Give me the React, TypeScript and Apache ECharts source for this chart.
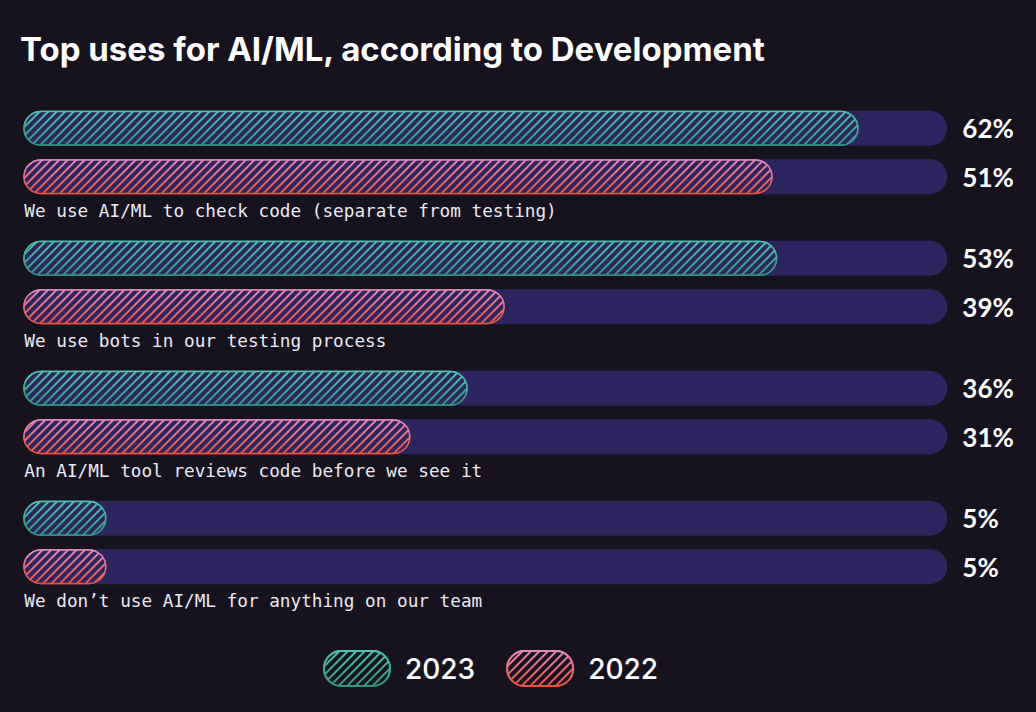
import * as echarts from 'echarts';
import { useEffect, useRef } from 'react';

// categories, top to bottom
const uses = [
  'We use AI/ML to check code (separate from testing)',
  'We use bots in our testing process',
  'An AI/ML tool reviews code before we see it',
  'We don’t use AI/ML for anything on our team',
];

// percentages printed at the end of each track
const pct2023 = [62, 53, 36, 5];
const pct2022 = [51, 39, 31, 5];

// drawn bar length, as a share of the track
const len2023 = [90.4, 81.6, 48.1, 9.0];
const len2022 = [81.1, 52.1, 41.9, 9.0];

const trackFull = [100, 100, 100, 100];

const BG = '#16131f';
const TRACK = '#2d2560';

const pillIcon =
  'path://M17.5,0 H48.5 A17.5,17.5 0 0 1 48.5,35 H17.5 A17.5,17.5 0 0 1 17.5,0 Z';

export default function App() {
  const container = useRef<HTMLDivElement | null>(null);

  useEffect(() => {
    document.body.style.margin = '0';
    document.body.style.background = BG;
    if (!container.current) return;
    const chart = echarts.init(container.current, undefined, { renderer: 'svg' });

    const teal = new echarts.graphic.LinearGradient(0, 0, 0, 1, [
      { offset: 0, color: '#4cc3ad' },
      { offset: 1, color: '#2e9482' },
    ]);
    const rose = new echarts.graphic.LinearGradient(0, 0, 0, 1, [
      { offset: 0, color: '#e487bb' },
      { offset: 1, color: '#e9513a' },
    ]);

    // thin diagonal stripes: the base colour shows through the gaps
    const hatch = (color: string) => ({
      symbol: 'rect',
      symbolSize: 1,
      color,
      dashArrayX: [1, 0],
      dashArrayY: [3.8, 1.3],
      rotation: -Math.PI / 4,
    });

    const common = {
      type: 'bar' as const,
      barWidth: 35,
      barGap: '38%',
      silent: true,
    };

    const pctLabel = (vals: number[]) => ({
      show: true,
      position: 'right',
      distance: 15,
      formatter: (p: { dataIndex: number }) => `${vals[p.dataIndex]}%`,
      color: '#ffffff',
      fontFamily: 'Lato',
      fontWeight: 700,
      fontSize: 26,
    });

    chart.setOption({
      animation: false,
      backgroundColor: BG,
      title: {
        text: 'Top uses for AI/ML, according to Development',
        left: 15,
        top: 27,
        textStyle: {
          color: '#ffffff',
          fontFamily: 'Inter',
          fontWeight: 700,
          fontSize: 33,
        },
      },
      legend: {
        data: ['2023', '2022'],
        left: 318,
        top: 645,
        icon: pillIcon,
        itemWidth: 66,
        itemHeight: 35,
        itemGap: 31,
        itemStyle: { decal: hatch(BG) },
        textStyle: {
          color: '#ffffff',
          fontFamily: 'Inter',
          fontWeight: 500,
          fontSize: 28,
          padding: [0, 0, 0, 10],
        },
      },
      grid: { left: 23.3, right: 88.7, top: 87.5, bottom: 104.5 },
      xAxis: { type: 'value', min: 0, max: 100, show: false },
      yAxis: [
        {
          type: 'category',
          inverse: true,
          data: uses,
          axisLine: { show: false },
          axisTick: { show: false },
          axisLabel: {
            inside: true,
            margin: 1,
            align: 'left',
            verticalAlign: 'top',
            lineHeight: 117,
            color: '#ebe9f2',
            fontFamily: 'DejaVu Sans Mono',
            fontSize: 17.7,
          },
        },
        { type: 'category', inverse: true, data: uses, show: false },
      ],
      series: [
        {
          ...common,
          name: 'track2023',
          yAxisIndex: 0,
          data: trackFull,
          itemStyle: { color: TRACK, borderRadius: 17.5 },
          label: pctLabel(pct2023),
        },
        {
          ...common,
          name: 'track2022',
          yAxisIndex: 0,
          data: trackFull,
          itemStyle: { color: TRACK, borderRadius: 17.5 },
          label: pctLabel(pct2022),
        },
        {
          ...common,
          name: '2023',
          yAxisIndex: 1,
          data: len2023,
          itemStyle: {
            color: teal,
            borderColor: teal,
            borderWidth: 1.5,
            borderRadius: 17.5,
            decal: hatch(TRACK),
          },
        },
        {
          ...common,
          name: '2022',
          yAxisIndex: 1,
          data: len2022,
          itemStyle: {
            color: rose,
            borderColor: rose,
            borderWidth: 1.5,
            borderRadius: 17.5,
            decal: hatch(TRACK),
          },
        },
      ],
    } as echarts.EChartsOption);

    return () => chart.dispose();
  }, []);

  return <div ref={container} style={{ width: 1036, height: 712 }} />;
}
